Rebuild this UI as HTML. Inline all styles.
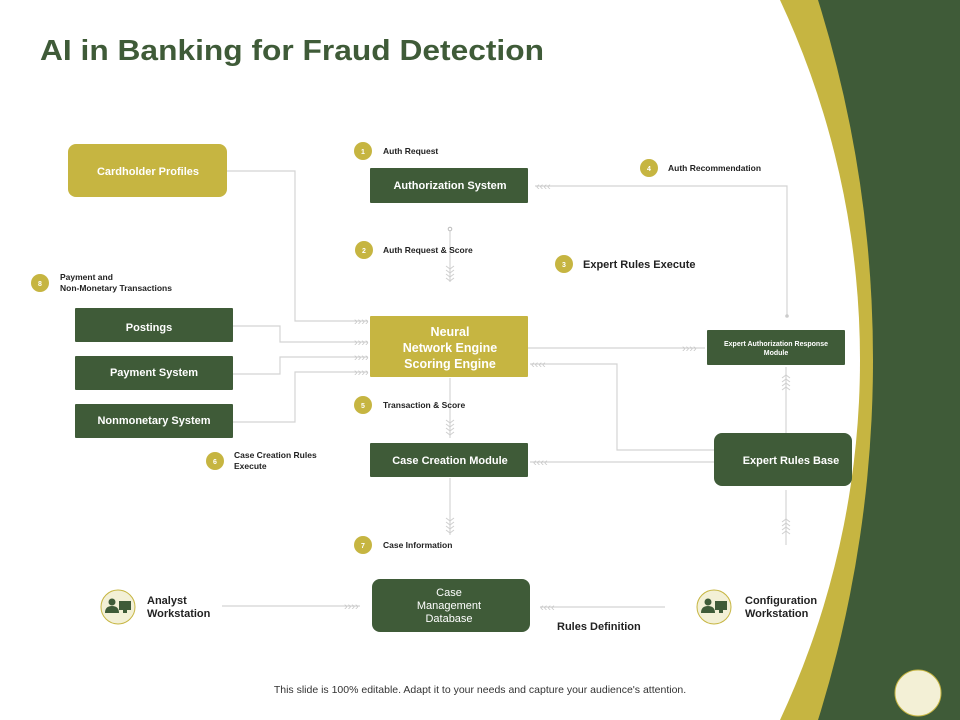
<!DOCTYPE html>
<html><head><meta charset="utf-8"><style>
html,body{margin:0;padding:0;background:#fff;width:960px;height:720px;overflow:hidden}
svg{display:block}
text{font-family:"Liberation Sans",sans-serif}
</style></head><body>
<svg width="960" height="720" viewBox="0 0 960 720" xmlns="http://www.w3.org/2000/svg">
<rect width="960" height="720" fill="#fff"/>
<!-- right decoration -->
<rect x="700" y="0" width="260" height="720" fill="#3f5b38"/>
<circle cx="-333" cy="360" r="1206" fill="#c6b541"/>
<circle cx="10" cy="360" r="850" fill="#fff"/>
<circle cx="918" cy="693" r="23" fill="#f3f0d6" stroke="#c6b541" stroke-width="1"/>

<!-- title -->
<text x="40" y="60" font-size="29" font-weight="bold" fill="#3f5b38" textLength="504" lengthAdjust="spacingAndGlyphs">AI in Banking for Fraud Detection</text>

<!-- connectors -->
<g fill="none" stroke="#d4d4d4" stroke-width="1.2">
<polyline points="227,171 295,171 295,321 368,321"/>
<polyline points="233,326 280,326 280,342 368,342"/>
<polyline points="233,374 280,374 280,357 368,357"/>
<polyline points="233,422 295,422 295,372 368,372"/>
<line x1="450" y1="230" x2="450" y2="282"/>
<line x1="450" y1="378" x2="450" y2="438"/>
<line x1="450" y1="478" x2="450" y2="535"/>
<polyline points="787,316 787,186 535,186"/>
<line x1="528" y1="348" x2="705" y2="348"/>
<polyline points="714,450 617,450 617,364 530,364"/>
<line x1="714" y1="462" x2="530" y2="462"/>
<line x1="786" y1="433" x2="786" y2="367"/>
<line x1="786" y1="545" x2="786" y2="490"/>
<line x1="222" y1="606" x2="360" y2="606"/>
<line x1="665" y1="607" x2="540" y2="607"/>
</g>
<circle cx="787" cy="316" r="1.8" fill="#ccc"/>
<g fill="#c8c8c8" font-size="11">
<text x="536" y="190">‹‹‹‹</text>
<text x="354" y="325">››››</text>
<text x="354" y="346">››››</text>
<text x="354" y="361">››››</text>
<text x="354" y="376">››››</text>
<text x="682" y="352">››››</text>
<text x="531" y="368">‹‹‹‹</text>
<text x="533" y="466">‹‹‹‹</text>
<text x="344" y="610">››››</text>
<text x="540" y="611">‹‹‹‹</text>
</g>
<g fill="none" stroke="#cfcfcf" stroke-width="1">
<path d="M446,266 l4,3 l4,-3 M446,270 l4,3 l4,-3 M446,274 l4,3 l4,-3 M446,278 l4,3 l4,-3"/>
<path d="M446,420 l4,3 l4,-3 M446,424 l4,3 l4,-3 M446,428 l4,3 l4,-3 M446,432 l4,3 l4,-3"/>
<path d="M446,518 l4,3 l4,-3 M446,522 l4,3 l4,-3 M446,526 l4,3 l4,-3 M446,530 l4,3 l4,-3"/>
<path d="M782,378 l4,-3 l4,3 M782,382 l4,-3 l4,3 M782,386 l4,-3 l4,3 M782,390 l4,-3 l4,3"/>
<path d="M782,522 l4,-3 l4,3 M782,526 l4,-3 l4,3 M782,530 l4,-3 l4,3 M782,534 l4,-3 l4,3"/>
</g>
<circle cx="450" cy="229" r="1.8" fill="#fff" stroke="#bbb"/>

<!-- boxes -->
<g>
<rect x="68" y="144" width="159" height="53" rx="8" fill="#c6b541"/>
<rect x="370" y="168" width="158" height="35" rx="1" fill="#3f5b38"/>
<rect x="370" y="316" width="158" height="61" rx="1" fill="#c6b541"/>
<rect x="75" y="308" width="158" height="34" rx="1" fill="#3f5b38"/>
<rect x="75" y="356" width="158" height="34" rx="1" fill="#3f5b38"/>
<rect x="75" y="404" width="158" height="34" rx="1" fill="#3f5b38"/>
<rect x="370" y="443" width="158" height="34" rx="1" fill="#3f5b38"/>
<rect x="707" y="330" width="138" height="35" rx="1" fill="#3f5b38"/>
<rect x="714" y="433" width="138" height="53" rx="8" fill="#3f5b38"/>
<rect x="372" y="579" width="158" height="53" rx="8" fill="#3f5b38"/>
</g>
<g fill="#fff" font-weight="bold" text-anchor="middle">
<text x="148" y="175" font-size="11">Cardholder Profiles</text>
<text x="450" y="189" font-size="11">Authorization System</text>
<text x="450" y="336" font-size="12.5">Neural</text>
<text x="450" y="352" font-size="12.5">Network Engine</text>
<text x="450" y="368" font-size="12.5">Scoring Engine</text>
<text x="149" y="331" font-size="11">Postings</text>
<text x="154" y="376" font-size="11">Payment System</text>
<text x="154" y="424" font-size="11">Nonmonetary System</text>
<text x="450" y="464" font-size="11">Case Creation Module</text>
<text x="776" y="346" font-size="7">Expert Authorization Response</text>
<text x="776" y="355" font-size="7">Module</text>
<text x="791" y="464" font-size="11">Expert Rules Base</text>
<text x="449" y="596" font-size="11" font-weight="normal">Case</text>
<text x="449" y="609" font-size="11" font-weight="normal">Management</text>
<text x="449" y="622" font-size="11" font-weight="normal">Database</text>
</g>

<!-- number badges -->
<g fill="#c6b541">
<circle cx="363" cy="151" r="9"/><circle cx="364" cy="250" r="9"/>
<circle cx="564" cy="264" r="9"/><circle cx="649" cy="168" r="9"/>
<circle cx="363" cy="405" r="9"/><circle cx="215" cy="461" r="9"/>
<circle cx="363" cy="545" r="9"/><circle cx="40" cy="283" r="9"/>
</g>
<g fill="#fff" font-size="7" text-anchor="middle" font-weight="bold">
<text x="363" y="154">1</text><text x="364" y="253">2</text>
<text x="564" y="267">3</text><text x="649" y="171">4</text>
<text x="363" y="408">5</text><text x="215" y="464">6</text>
<text x="363" y="548">7</text><text x="40" y="286">8</text>
</g>
<g fill="#222" font-size="8.5" font-weight="bold">
<text x="383" y="154">Auth Request</text>
<text x="383" y="253">Auth Request &amp; Score</text>
<text x="668" y="171">Auth Recommendation</text>
<text x="383" y="408">Transaction &amp; Score</text>
<text x="234" y="458">Case Creation Rules</text>
<text x="234" y="469">Execute</text>
<text x="383" y="548">Case Information</text>
<text x="60" y="280">Payment and</text>
<text x="60" y="291">Non-Monetary Transactions</text>
</g>
<text x="583" y="268" font-size="11" font-weight="bold" fill="#222">Expert Rules Execute</text>
<text x="557" y="630" font-size="11" font-weight="bold" fill="#222">Rules Definition</text>
<g fill="#222" font-size="11" font-weight="bold">
<text x="147" y="604">Analyst</text><text x="147" y="617">Workstation</text>
<text x="745" y="604">Configuration</text><text x="745" y="617">Workstation</text>
</g>

<!-- icons -->
<g>
<circle cx="118" cy="607" r="17" fill="#f3f0d6" stroke="#c6b541"/>
<circle cx="112" cy="602" r="3.5" fill="#3f5b38"/>
<path d="M105,613 q0,-7 7,-7 q7,0 7,7 z" fill="#3f5b38"/>
<rect x="119" y="601" width="12" height="9" fill="#3f5b38"/><rect x="123" y="610" width="4" height="3" fill="#3f5b38"/>
<circle cx="714" cy="607" r="17" fill="#f3f0d6" stroke="#c6b541"/>
<circle cx="708" cy="602" r="3.5" fill="#3f5b38"/>
<path d="M701,613 q0,-7 7,-7 q7,0 7,7 z" fill="#3f5b38"/>
<rect x="715" y="601" width="12" height="9" fill="#3f5b38"/><rect x="719" y="610" width="4" height="3" fill="#3f5b38"/>
</g>

<text x="480" y="693" font-size="10.5" fill="#333" text-anchor="middle">This slide is 100% editable. Adapt it to your needs and capture your audience's attention.</text>
</svg>
</body></html>
